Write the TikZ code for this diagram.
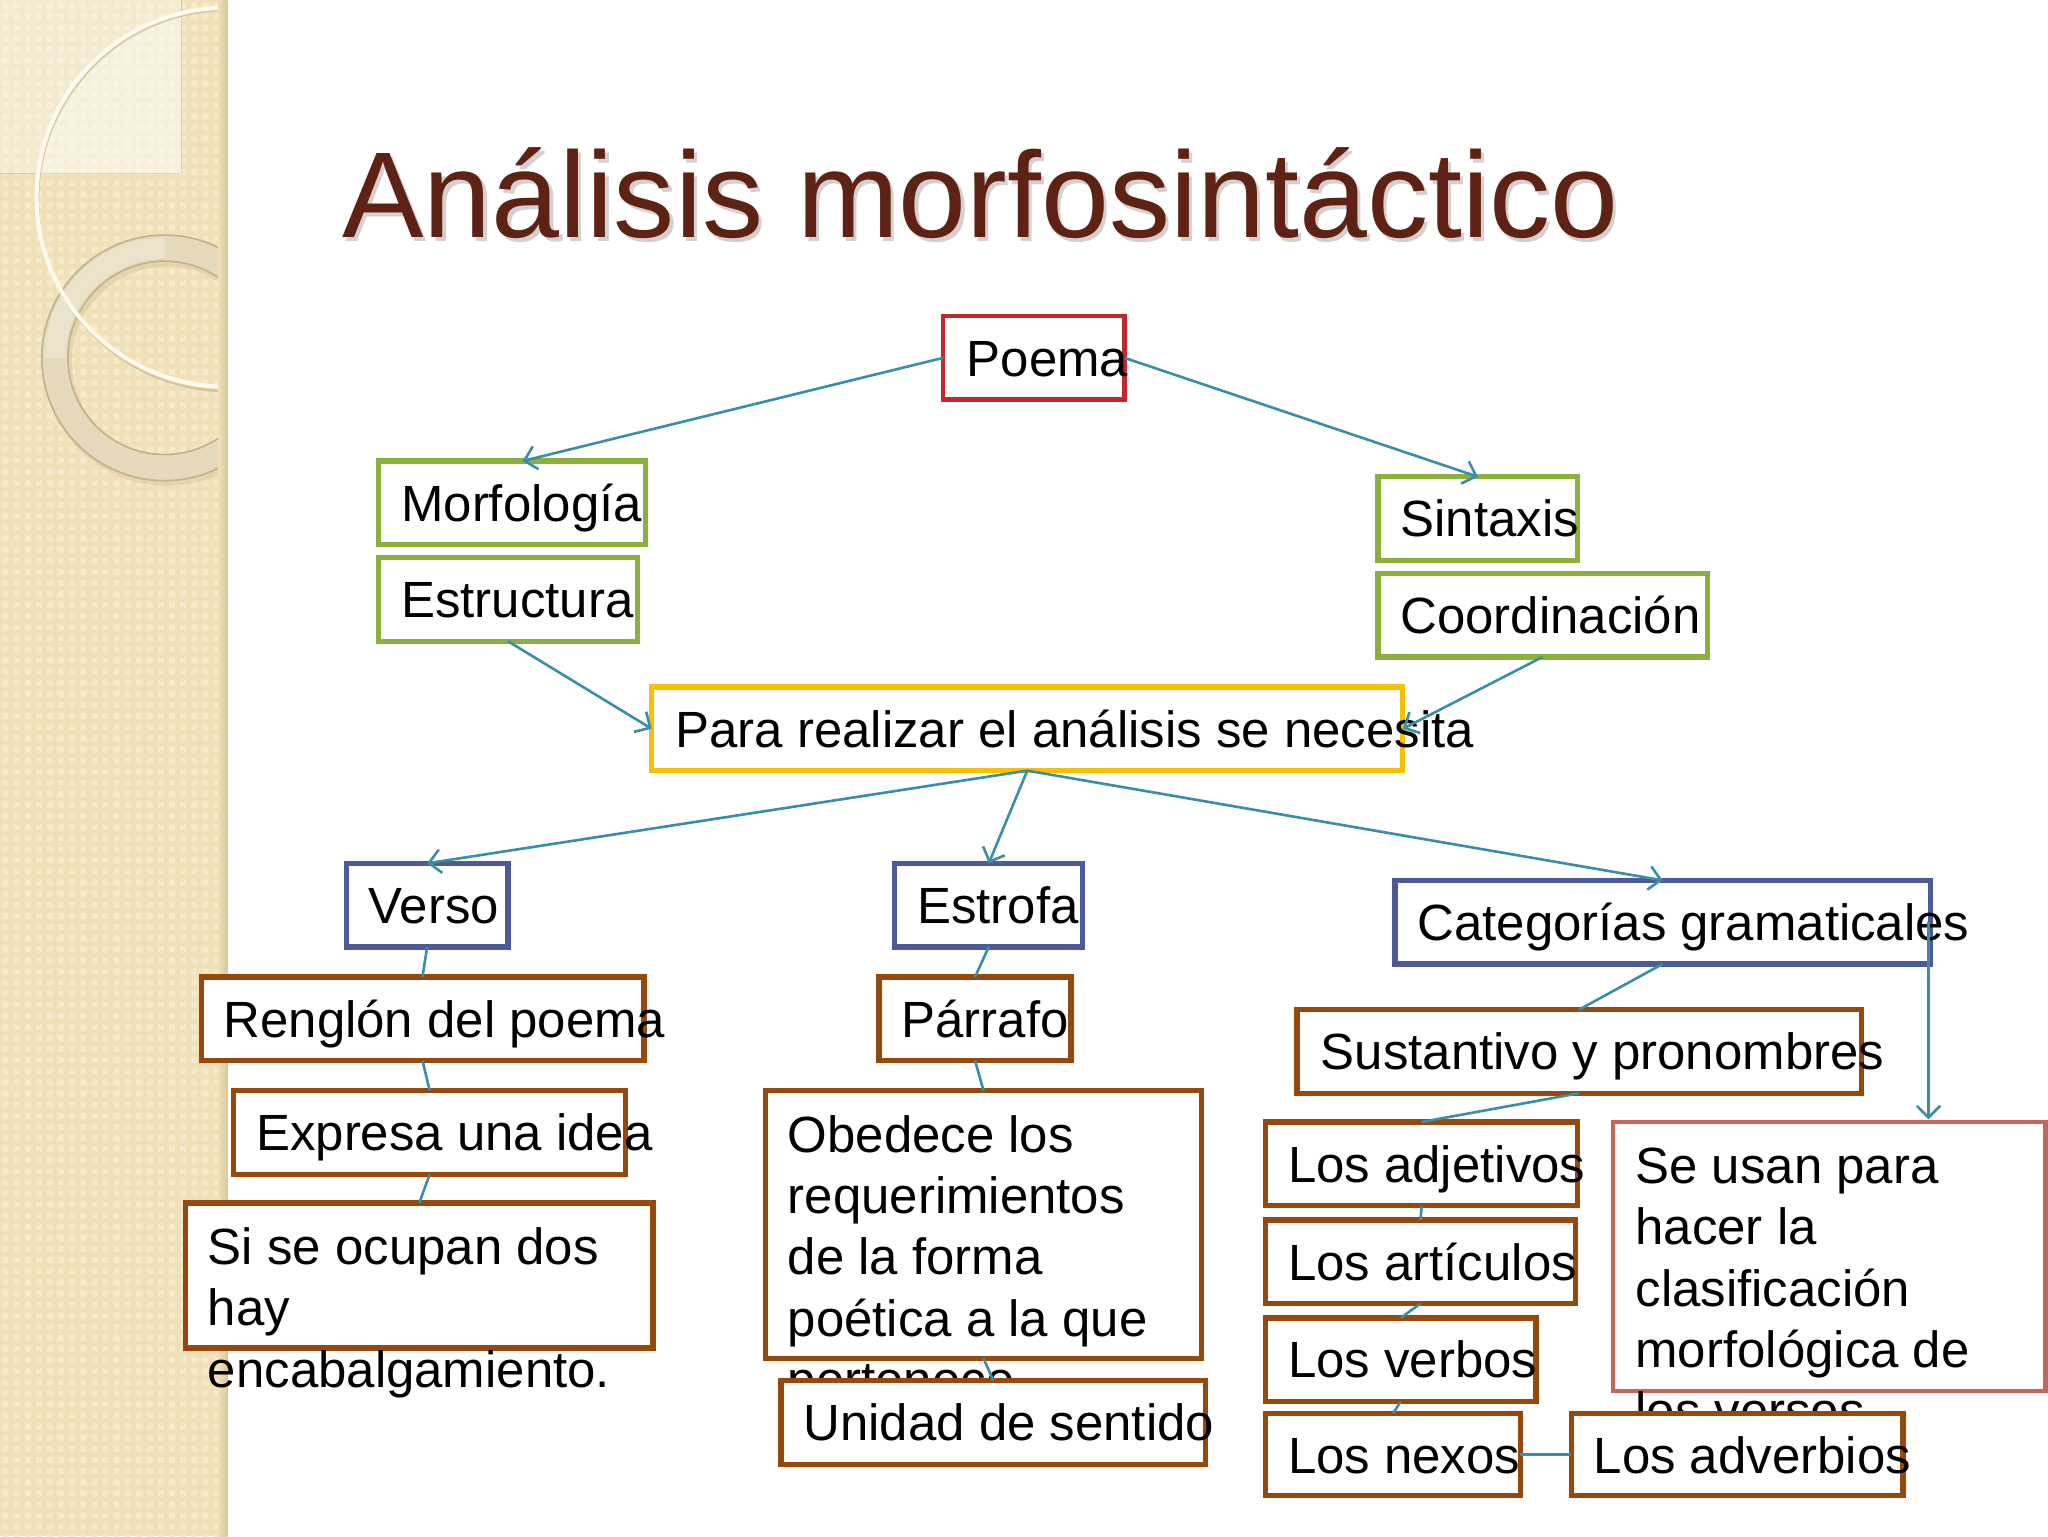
\documentclass[tikz,border=0pt]{standalone}
\usepackage{fontspec}
\setmainfont{Liberation Sans}
\usetikzlibrary{arrows.meta,calc}
\definecolor{strip}{RGB}{240,225,184}
\definecolor{stripdot}{RGB}{246,234,202}
\definecolor{stripedge}{RGB}{218,200,156}
\definecolor{ringcol}{RGB}{229,218,190}
\definecolor{ringlight}{RGB}{240,233,212}
\definecolor{ringedge}{RGB}{196,180,142}
\definecolor{circwhite}{RGB}{253,250,240}
\definecolor{ctitle}{RGB}{94,34,21}
\definecolor{tshadow}{RGB}{212,208,206}
\definecolor{cred}{RGB}{192,40,45}
\definecolor{cgreen}{RGB}{140,176,62}
\definecolor{cyellow}{RGB}{248,192,0}
\definecolor{cblue}{RGB}{78,90,152}
\definecolor{cbrown}{RGB}{152,72,10}
\definecolor{csalmon}{RGB}{198,102,90}
\definecolor{cline}{RGB}{58,142,168}
\tikzset{
  box/.style={draw, fill=white, rectangle, inner sep=0pt, outer sep=0pt, anchor=north west, line width=4pt},
  txt/.style={inner sep=0pt, anchor=base west, text=black, font=\fontsize{39}{47}\selectfont},
  ttl/.style={inner sep=0pt, anchor=base west, font=\fontsize{93.5}{110}\selectfont},
  conn/.style={draw=cline, line width=2pt},
  arr/.style={conn, -{Straight Barb[length=9pt,width=18pt]}}
}
\begin{document}
\begin{tikzpicture}[x=1pt,y=-1pt]
\useasboundingbox (0,0) rectangle (1568,1176);
\fill[white] (0,0) rectangle (1568,1176);
% left decorative strip
\begin{scope}
  \clip (0,0) rectangle (174,1176);
  \fill[strip] (0,0) rectangle (174,1176);
  \fill[stripdot] \foreach \i in {0,...,20}{\foreach \j in {0,...,138}{(\i*8.5+2,\j*8.5+2) rectangle ++(4.5,4.5)}};
  \fill[white,opacity=0.3] (0,0) rectangle (139,133);
  \draw[stripedge,line width=1pt] (139,0) -- (139,133) -- (0,133);
  \begin{scope}
    \clip (0,0) rectangle (139,133);
    \fill[white,opacity=0.3] (173,151) circle (145);
  \end{scope}
  % ring with soft shadow
  \fill[stripedge,even odd rule,opacity=0.5] (128,277) circle (95) (128,277) circle (73);
  \fill[ringcol,even odd rule] (126,274) circle (94) (126,274) circle (74);
  \begin{scope}
    \clip (0,180) rectangle (126,274);
    \fill[ringlight,even odd rule,opacity=0.6] (126,274) circle (92) (126,274) circle (76);
  \end{scope}
  \draw[ringedge,line width=1.3pt] (126,274) circle (94);
  \draw[ringedge,line width=1.3pt] (126,274) circle (74);
  % thin circle
  \draw[ringedge,line width=2pt,opacity=0.6] (175,153.5) circle (146);
  \draw[circwhite,line width=3.2pt] (173,151) circle (145);
  \shade[left color=strip,right color=stripedge] (167,0) rectangle (174,1176);
\end{scope}
% title
\node[ttl] (title) at (262,182) {\rlap{\raisebox{-3pt}{\hspace{2.5pt}\textcolor{tshadow}{Análisis morfosintáctico}}}\textcolor{ctitle}{Análisis morfosintáctico}};
% boxes and texts
\node[box,draw=cred,line width=3.5pt,minimum width=139pt,minimum height=64pt] (poema) at (722,242) {};
\node[txt] (tpoema) at (740,288) {Poema};
\node[box,draw=cgreen,minimum width=204pt,minimum height=64pt] (morf) at (290,353) {};
\node[txt] (tmorf) at (307,399) {Morfología};
\node[box,draw=cgreen,minimum width=198pt,minimum height=64pt] (estr) at (290,427) {};
\node[txt] (testr) at (307,473) {Estructura};
\node[box,draw=cgreen,minimum width=153pt,minimum height=64pt] (sint) at (1055,365) {};
\node[txt] (tsint) at (1072,411) {Sintaxis};
\node[box,draw=cgreen,minimum width=252pt,minimum height=64pt] (coord) at (1055,439) {};
\node[txt] (tcoord) at (1072,485) {Coordinación};
\node[box,draw=cyellow,minimum width=575pt,minimum height=64pt] (para) at (499,526) {};
\node[txt] (tpara) at (517,572) {Para realizar el análisis se necesita};
\node[box,draw=cblue,minimum width=124pt,minimum height=64pt] (verso) at (265,661) {};
\node[txt] (tverso) at (282,707) {Verso};
\node[box,draw=cblue,minimum width=144pt,minimum height=64pt] (estrofa) at (685,661) {};
\node[txt] (testrofa) at (702,707) {Estrofa};
\node[box,draw=cblue,minimum width=410pt,minimum height=64pt] (cat) at (1068,674) {};
\node[txt] (tcat) at (1085,720) {Categorías gramaticales};
\node[box,draw=cbrown,minimum width=339pt,minimum height=64pt] (reng) at (154,748) {};
\node[txt] (treng) at (171,794) {Renglón del poema};
\node[box,draw=cbrown,minimum width=300pt,minimum height=64pt] (expr) at (179,835) {};
\node[txt] (texpr) at (196,881) {Expresa una idea};
\node[box,draw=cbrown,minimum width=358pt,minimum height=111pt] (sise) at (142,921) {};
\node[txt] (tsise) at (159,968) {\vtop{\hbox{Si se ocupan dos}\hbox{hay}\hbox{encabalgamiento.}}};
\node[box,draw=cbrown,minimum width=147pt,minimum height=64pt] (parr) at (673,748) {};
\node[txt] (tparr) at (690,794) {Párrafo};
\node[box,draw=cbrown,minimum width=334pt,minimum height=205pt] (obed) at (586,835) {};
\node[txt] (tobed) at (603,882) {\vtop{\hbox{Obedece los}\hbox{requerimientos}\hbox{de la forma}\hbox{poética a la que}\hbox{pertenece}}};
\node[box,draw=cbrown,minimum width=325pt,minimum height=64pt] (unid) at (598,1057) {};
\node[txt] (tunid) at (615,1103) {Unidad de sentido};
\node[box,draw=cbrown,minimum width=432pt,minimum height=64pt] (sust) at (993,773) {};
\node[txt] (tsust) at (1011,819) {Sustantivo y pronombres};
\node[box,draw=cbrown,minimum width=239pt,minimum height=64pt] (adj) at (969,859) {};
\node[txt] (tadj) at (986,905) {Los adjetivos};
\node[box,draw=cbrown,minimum width=237pt,minimum height=64pt] (art) at (969,934) {};
\node[txt] (tart) at (986,980) {Los artículos};
\node[box,draw=cbrown,minimum width=207pt,minimum height=64pt] (verb) at (969,1009) {};
\node[txt] (tverb) at (986,1055) {Los verbos};
\node[box,draw=csalmon,line width=3.5pt,minimum width=331pt,minimum height=206pt] (seusan) at (1235,859) {};
\node[txt] (tseusan) at (1252,906) {\vtop{\hbox{Se usan para}\hbox{hacer la}\hbox{clasificación}\hbox{morfológica de}\hbox{los versos}}};
\node[box,draw=cbrown,minimum width=195pt,minimum height=63pt] (nex) at (969,1082) {};
\node[txt] (tnex) at (986,1128) {Los nexos};
\node[box,draw=cbrown,minimum width=254pt,minimum height=63pt] (adv) at (1203,1082) {};
\node[txt] (tadv) at (1220,1128) {Los adverbios};
% connectors
\draw[arr] (poema.west) -- ($(morf.north)+(8,0)$);
\draw[arr] (poema.east) -- (sint.north);
\draw[arr] (estr.south) -- (para.west);
\draw[arr] (coord.south) -- (para.east);
\draw[arr] (para.south) -- (verso.north);
\draw[arr] (para.south) -- (estrofa.north);
\draw[arr] (para.south) -- (cat.north);
\draw[conn] (verso.south) -- (reng.north);
\draw[conn] (reng.south) -- (expr.north);
\draw[conn] (expr.south) -- (sise.north);
\draw[conn] (estrofa.south) -- (parr.north);
\draw[conn] (parr.south) -- (obed.north);
\draw[conn] (obed.south) -- (unid.north);
\draw[conn] (cat.south) -- (sust.north);
\draw[conn] (sust.south) -- (adj.north);
\draw[conn] (adj.south) -- (art.north);
\draw[conn] (art.south) -- (verb.north);
\draw[conn] (verb.south) -- (nex.north);
\draw[conn] (nex.east) -- (adv.west);
\draw[arr] ($(cat.east)+(-1.5,0)$) -- ($(cat.east |- seusan.north)+(-1.5,-2)$);
\end{tikzpicture}
\end{document}
